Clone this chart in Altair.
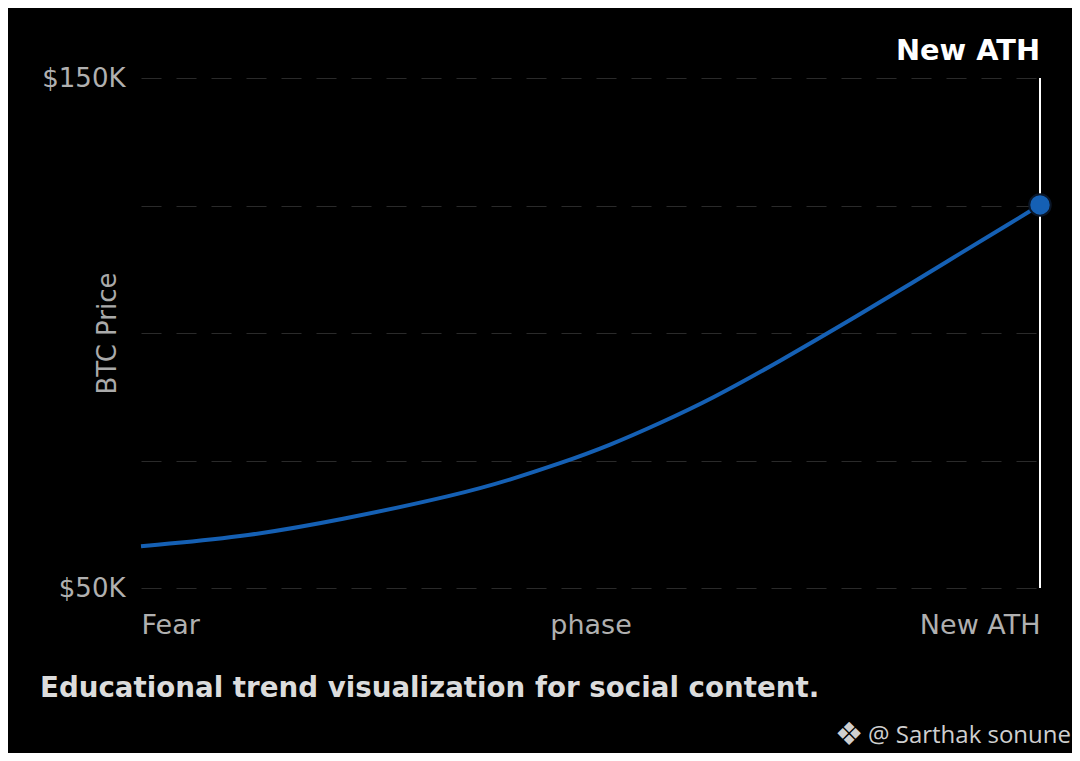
import altair as alt
import pandas as pd

# ---- data ----
progress = [0, 11, 22.1, 35.5, 41, 46.6, 52.2, 57.7, 63.3, 71.1, 80, 85.5, 91.1, 96.7, 100]
price_k = [58.2, 59.9, 63.3, 68.4, 71.2, 74.4, 78.0, 82.3, 86.9, 94.5, 103.7, 109.5, 115.6, 121.5, 125.1]
x_tick_values = [0, 50, 100]
x_tick_labels = ["Fear", "phase", "New ATH"]
y_tick_values = [50, 75, 100, 125, 150]
y_labelled = {50: "$50K", 150: "$150K"}

title_text = "New ATH"
caption_text = "Educational trend visualization for social content."
credit_icon = "❖"
credit_text = "@ Sarthak sonune"

df = pd.DataFrame({"x": progress, "y": price_k})
end_df = pd.DataFrame({"x": [progress[-1]], "y": [price_k[-1]]})
rule_df = pd.DataFrame({"x": [progress[-1]], "y0": [50], "y1": [150]})

FONT = "DejaVu Sans"
W, H = 899, 510

label_expr_x = " : ".join(
    f"datum.value == {v} ? '{l}'" for v, l in zip(x_tick_values, x_tick_labels)
) + " : ''"
label_expr_y = " : ".join(
    f"datum.value == {v} ? '{l}'" for v, l in y_labelled.items()
) + " : ''"

x_enc = alt.X(
    "x:Q",
    scale=alt.Scale(domain=[0, 100], nice=False),
    axis=alt.Axis(
        values=x_tick_values,
        labelExpr=label_expr_x,
        title=None,
        grid=False,
        domain=False,
        ticks=False,
        labelFlush=True,
        labelFont=FONT,
        labelFontSize=27,
        labelColor="#b0b0b0",
        labelPadding=24,
    ),
)
y_enc = alt.Y(
    "y:Q",
    scale=alt.Scale(domain=[50, 150], nice=False),
    axis=alt.Axis(
        values=y_tick_values,
        labelExpr=label_expr_y,
        title="BTC Price",
        titleFont=FONT,
        titleFontSize=26,
        titleFontWeight="normal",
        titleColor="#aaaaaa",
        titleX=-34,
        titleY=H / 2,
        titleAngle=-90,
        titleAlign="center",
        titleBaseline="middle",
        grid=True,
        gridColor="#2a2a2a",
        gridDash=[20, 15],
        gridWidth=1.2,
        domain=False,
        ticks=False,
        labelFont=FONT,
        labelFontSize=26,
        labelColor="#b0b0b0",
        labelPadding=16,
    ),
)

line = alt.Chart(df).mark_line(
    color="#1560b4", strokeWidth=4, interpolate="basis"
).encode(x=x_enc, y=y_enc)

rule = alt.Chart(rule_df).mark_rule(color="#ffffff", strokeWidth=2).encode(
    x="x:Q", y="y0:Q", y2="y1:Q"
)

point = alt.Chart(end_df).mark_point(
    filled=True, shape="circle", size=460, color="#1560b4",
    stroke="#0a1628", strokeWidth=2, opacity=1,
).encode(x="x:Q", y="y:Q")

title = alt.Chart(end_df).mark_text(
    text=title_text, font=FONT, fontSize=28.8, fontWeight="bold",
    color="#ffffff", align="right", baseline="alphabetic",
).encode(x=alt.value(W), y=alt.value(-18))

caption = alt.Chart(end_df).mark_text(
    text=caption_text, font=FONT, fontSize=27.7, fontWeight="bold",
    color="#dcdcdc", align="left", baseline="alphabetic",
).encode(x=alt.value(-101), y=alt.value(619))

icon = alt.Chart(end_df).mark_text(
    text=credit_icon, font=FONT, fontSize=32,
    color="#cfcfcf", align="center", baseline="middle",
).encode(x=alt.value(708), y=alt.value(657))

credit = alt.Chart(end_df).mark_text(
    text=credit_text, font="Open Sans", fontSize=24,
    color="#cfcfcf", align="right", baseline="alphabetic",
).encode(x=alt.value(930), y=alt.value(665))

chart = alt.layer(line, rule, point, title, caption, icon, credit).properties(
    width=W, height=H,
    background="#000000",
    padding={"left": 133, "top": 70, "right": 32, "bottom": 165},
    autosize=alt.AutoSizeParams(type="none"),
).configure_view(stroke=None)

chart.save("out.html", embed_options={"renderer": "svg", "actions": False})
